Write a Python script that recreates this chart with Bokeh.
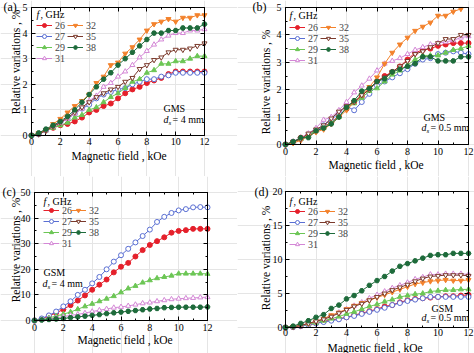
import math
from bokeh.plotting import figure
from bokeh.models import Range1d, SingleIntervalTicker, LinearAxis, Legend, LegendItem, Label
from bokeh.layouts import column, row
from bokeh.embed import file_html
from bokeh.resources import INLINE

NaN = float("nan")
field = [0, 0.5, 1, 1.5, 2, 2.5, 3, 3.5, 4, 4.5, 5, 5.5, 6, 6.5, 7, 7.5, 8, 8.5, 9, 9.5, 10, 10.5, 11, 11.5, 12]
freqs = ["26", "27", "29", "31", "32", "35", "38"]

# Panel (a): GMS, d_s = 4 mm
a_26 = [0, 0.05, 0.2, 0.3, 0.4, 0.45, 0.55, 0.7, 0.9, 1.0, 1.15, 1.25, 1.45, 1.65, 1.8, 1.9, 2.05, 2.15, 2.25, 2.4, 2.5, 2.5, 2.5, 2.5, 2.5]
a_27 = [0, 0.05, 0.2, 0.35, 0.5, 0.65, 0.85, 1.05, 1.2, 1.45, 1.6, 1.7, 1.8, 1.85, 2.0, 2.1, 2.2, 2.2, 2.3, 2.35, 2.45, 2.45, 2.45, 2.45, 2.45]
a_29 = [0, 0.05, 0.2, 0.3, 0.4, 0.5, 0.7, 0.8, 1.0, 1.1, 1.3, 1.5, 1.65, 1.85, 2.1, 2.2, 2.45, 2.55, 2.8, 2.8, 2.9, 2.9, 3.0, 3.1, 3.1]
a_31 = [0, 0.05, 0.2, 0.35, 0.5, 0.65, 0.85, 1.05, 1.35, 1.55, 1.9, 2.05, 2.3, 2.5, 2.75, 3.05, 3.3, 3.55, 3.75, 3.9, 4.0, 4.0, 4.1, 4.1, 4.15]
a_32 = [0, 0.1, 0.2, 0.45, 0.65, 0.9, 1.15, 1.35, 1.6, 2.05, 2.3, 2.75, 2.85, 3.2, 3.45, 3.75, 4.1, 4.35, 4.45, 4.55, 4.45, 4.6, 4.6, 4.7, 4.7]
a_35 = [0, 0.05, 0.2, 0.35, 0.5, 0.7, 0.9, 1.1, 1.3, 1.5, 1.65, 1.8, 1.9, 2.1, 2.25, 2.6, 2.75, 2.95, 3.05, 3.25, 3.35, 3.35, 3.4, 3.5, 3.6]
a_38 = [0, 0.1, 0.25, 0.4, 0.55, 0.75, 1.0, 1.3, 1.6, 1.9, 2.2, 2.45, 2.75, 3.0, 3.25, 3.5, 3.75, 4.0, 4.0, 4.1, 4.1, 4.2, 4.2, 4.2, 4.35]

# Panel (b): GMS, d_s = 0.5 mm  (32 GHz leaves the box after 11.5 kOe)
b_26 = [0, 0.1, 0.25, 0.35, 0.5, 0.65, 0.8, 1.05, 1.3, 1.55, 1.75, 2.05, 2.3, 2.5, 2.65, 2.85, 3.1, 3.35, 3.45, 3.5, 3.6, 3.65, 3.7, 3.7, 3.7]
b_27 = [0, 0.1, 0.2, 0.35, 0.5, 0.7, 0.9, 1.15, 1.4, 1.25, 1.55, 1.85, 2.15, 2.3, 2.45, 2.6, 2.75, 2.95, 3.1, 3.15, 3.3, 3.35, 3.4, 3.35, 3.3]
b_29 = [0, 0.1, 0.2, 0.35, 0.5, 0.6, 0.8, 1.0, 1.35, 1.5, 1.7, 1.95, 2.05, 2.3, 2.55, 2.7, 2.9, 3.1, 3.25, 3.25, 3.25, 3.35, 3.45, 3.5, 3.6]
b_31 = [0, 0.1, 0.25, 0.4, 0.6, 0.9, 1.0, 1.25, 1.55, 1.9, 2.15, 2.4, 2.7, 2.95, 3.05, 3.15, 3.3, 3.45, 3.55, 3.65, 3.7, 3.75, 3.8, 3.9, 3.95]
b_32 = [0, 0.05, 0.15, 0.3, 0.45, 0.55, 0.75, 1.0, 1.25, 1.55, 1.8, 2.1, 2.45, 2.95, 3.35, 3.65, 3.9, 4.15, 4.3, 4.45, 4.7, 4.7, 4.85, 4.95]
b_35 = [0, 0.1, 0.2, 0.4, 0.55, 0.7, 0.95, 1.2, 1.4, 1.55, 1.8, 2.0, 2.3, 2.45, 2.65, 2.85, 3.05, 3.3, 3.4, 3.55, 3.7, 3.85, 3.85, 4.0, 4.0]
b_38 = [0, 0.1, 0.25, 0.25, 0.5, 0.6, 0.75, 1.0, 1.35, 1.6, 1.95, 2.05, 2.3, 2.4, 2.65, 2.75, 2.85, 2.95, 3.2, 3.2, 3.05, 3.05, 3.05, 3.2, 3.2]

# Panel (c): GSM, d_s = 4 mm  (32 and 35 GHz appear only in the legend)
c_26 = [0, 0.6, 1.8, 3.0, 4.3, 6.0, 7.8, 9.8, 12.0, 14.0, 16.0, 18.8, 21.0, 22.5, 25.0, 27.5, 29.5, 31.0, 32.5, 34.3, 35.0, 35.3, 35.8, 35.8, 35.8]
c_27 = [0, 0.8, 2.0, 3.5, 5.5, 7.5, 10.0, 12.0, 14.5, 17.0, 20.0, 23.0, 25.5, 28.0, 30.5, 33.0, 35.5, 38.5, 40.5, 42.0, 43.0, 43.5, 44.2, 44.3, 44.2]
c_29 = [0, 0.3, 1.0, 1.7, 2.5, 3.3, 4.4, 5.5, 6.5, 7.5, 8.5, 9.5, 11.0, 12.5, 13.5, 14.8, 15.7, 16.5, 17.0, 17.5, 18.3, 18.3, 18.3, 18.3, 18.2]
c_31 = [0, 0.2, 0.6, 1.0, 1.5, 2.0, 2.4, 2.9, 3.5, 4.0, 4.5, 5.0, 5.3, 5.7, 6.2, 6.7, 7.0, 7.5, 7.9, 8.3, 8.5, 8.7, 8.8, 9.0, 9.1]
c_32 = [NaN]
c_35 = [NaN]
c_38 = [0, 0.2, 0.4, 0.6, 0.8, 1.1, 1.4, 1.7, 2.0, 2.3, 2.7, 3.0, 3.3, 3.6, 3.9, 4.2, 4.5, 4.7, 5.0, 5.1, 5.2, 5.2, 5.2, 5.2, 5.3]

# Panel (d): GSM, d_s = 0.5 mm
d_26 = [0, 0.05, 0.2, 0.4, 0.6, 0.9, 1.1, 1.3, 1.5, 1.8, 2.1, 2.4, 2.7, 3.1, 3.3, 3.7, 4.0, 4.2, 4.3, 4.4, 4.5, 4.6, 4.6, 4.7, 4.8]
d_27 = [0, 0.05, 0.2, 0.4, 0.6, 0.8, 1.0, 1.2, 1.5, 1.7, 2.0, 2.3, 2.6, 2.9, 3.3, 3.6, 3.9, 4.1, 4.3, 4.5, 4.5, 4.5, 4.5, 4.5, 4.5]
d_29 = [0, 0.1, 0.3, 0.5, 0.7, 1.0, 1.3, 1.6, 2.0, 2.3, 2.7, 3.1, 3.4, 3.8, 4.1, 4.5, 4.7, 4.9, 5.0, 5.3, 5.4, 5.5, 5.5, 5.6, 5.6]
d_31 = [0, 0.1, 0.3, 0.6, 0.9, 1.3, 1.7, 2.2, 2.7, 3.2, 3.7, 4.3, 4.8, 5.3, 5.8, 6.2, 6.6, 7.1, 7.4, 7.8, 7.8, 7.9, 7.9, 7.9, 7.8]
d_32 = [0, 0.1, 0.3, 0.6, 0.9, 1.3, 1.8, 2.2, 2.7, 3.2, 3.6, 4.0, 4.4, 4.8, 5.2, 5.6, 6.0, 6.4, 6.6, 6.8, 6.9, 7.0, 6.9, 6.9, 7.0]
d_35 = [0, 0.1, 0.3, 0.6, 0.9, 1.2, 1.6, 2.1, 2.6, 3.1, 3.5, 4.0, 4.5, 5.0, 5.5, 5.9, 6.3, 6.8, 7.2, 7.5, 7.6, 7.7, 7.7, 7.7, 7.6]
d_38 = [0, 0.2, 0.6, 1.0, 1.5, 1.9, 2.8, 3.3, 4.2, 4.7, 5.4, 6.2, 6.9, 7.5, 8.3, 9.0, 9.4, 9.8, 10.2, 10.6, 10.7, 10.7, 10.9, 10.9, 10.9]

colors = {"26": "#e5202b", "27": "#5a6fd3", "29": "#6cc655", "31": "#d487d6",
          "32": "#f3822c", "35": "#7b3a2c", "38": "#1e6b3b"}
markers = {"26": "circle", "27": "circle", "29": "triangle", "31": "triangle",
           "32": "inverted_triangle", "35": "inverted_triangle", "38": "hex"}
filled = {"26": True, "27": False, "29": True, "31": False, "32": True, "35": False, "38": True}

FONT = "Liberation Serif"
XLABEL = "Magnetic field ,  kOe"
YLABEL = "Relative variations ,  %"


def make_panel(tag, data, ymax, ystep, w, h, box, tick_stand, tag_pos, xlab_pos, ylab_pos,
               leg_pos, title_y, sample, sample_pos, ds_text, ds_pos):
    L, R, T, B = box
    kx = (R - L) / 12.0
    ky = (B - T) / float(ymax)
    p = figure(width=w, height=h,
               x_range=Range1d(-L / kx, 12 + (w - R) / kx),
               y_range=Range1d(-(h - B) / ky, ymax + T / ky),
               output_backend="svg", toolbar_location=None,
               x_axis_location=None, y_axis_location=None, min_border=0)
    p.background_fill_color = "white"
    p.border_fill_color = "white"
    p.outline_line_color = None

    xt = SingleIntervalTicker(interval=2, num_minor_ticks=2)
    yt = SingleIntervalTicker(interval=ystep, num_minor_ticks=2)
    common = dict(major_tick_in=4, major_tick_out=0, minor_tick_in=2, minor_tick_out=0,
                  axis_line_color="black", major_tick_line_color="black",
                  minor_tick_line_color="black")
    xs_stand, ys_stand = tick_stand
    bottom = LinearAxis(ticker=xt, fixed_location=0, bounds=(0, 12), major_label_text_font=FONT,
                        major_label_text_font_size="10px", major_label_text_color="black",
                        major_label_standoff=xs_stand, **common)
    left = LinearAxis(ticker=yt, fixed_location=0, bounds=(0, ymax), major_label_text_font=FONT,
                      major_label_text_font_size="10px", major_label_text_color="black",
                      major_label_standoff=ys_stand, **common)
    top = LinearAxis(ticker=xt, fixed_location=ymax, bounds=(0, 12),
                     major_label_text_font_size="1px", major_label_text_color=None, **common)
    right = LinearAxis(ticker=yt, fixed_location=12, bounds=(0, ymax),
                       major_label_text_font_size="1px", major_label_text_color=None, **common)
    p.add_layout(bottom, "below")
    p.add_layout(left, "left")
    p.add_layout(top, "above")
    p.add_layout(right, "right")

    def lab(text, px, py, **kw):
        opts = dict(text_font=FONT, text_font_size="10px", text_baseline="middle",
                    text_color="black")
        opts.update(kw)
        p.add_layout(Label(x=px, y=h - py, x_units="screen", y_units="screen",
                           text=text, **opts))

    # axis titles
    lab(XLABEL, xlab_pos[0], xlab_pos[1], text_font_size="11.5px", text_align="center")
    lab(YLABEL, ylab_pos[0], ylab_pos[1], text_font_size="11.5px", text_align="center",
        angle=math.pi / 2)

    rend = {}
    for f in freqs:
        ys = data[f]
        xs = field[:len(ys)]
        c = colors[f]
        ln = p.line(xs, ys, line_color=c, line_width=1)
        sc = p.scatter(xs, ys, marker=markers[f], size=5, line_color=c, line_width=1,
                       fill_color=c if filled[f] else "white")
        rend[f] = [ln, sc]

    row_h = 11
    leg_common = dict(label_text_font=FONT, label_text_font_size="10px", glyph_width=16,
                      glyph_height=10, label_height=10, label_standoff=3, spacing=0,
                      padding=0, margin=0, border_line_color=None, background_fill_alpha=0)
    lx, lx2, row1 = leg_pos
    top_px = row1 - row_h / 2.0
    l1 = Legend(items=[LegendItem(label=f, renderers=rend[f]) for f in ["26", "27", "29", "31"]],
                location=(lx, h - top_px - 4 * row_h), **leg_common)
    l2 = Legend(items=[LegendItem(label=f, renderers=rend[f]) for f in ["32", "35", "38"]],
                location=(lx2, h - top_px - 3 * row_h), **leg_common)
    p.add_layout(l1)
    p.add_layout(l2)

    # legend title: f, GHz
    lab("f", lx, title_y, text_font_style="italic")
    lab(", GHz", lx + 4, title_y)

    # panel tag
    lab(tag, tag_pos[0], tag_pos[1], text_font_size="12px")

    # sample annotation
    lab(sample, sample_pos[0], sample_pos[1])
    dx, dy = ds_pos
    lab("d", dx, dy, text_font_style="italic")
    lab("s", dx + 5, dy + 3, text_font_style="italic", text_font_size="7px")
    lab(ds_text, dx + 9, dy)
    return p


data_a = {"26": a_26, "27": a_27, "29": a_29, "31": a_31, "32": a_32, "35": a_35, "38": a_38}
data_b = {"26": b_26, "27": b_27, "29": b_29, "31": b_31, "32": b_32, "35": b_35, "38": b_38}
data_c = {"26": c_26, "27": c_27, "29": c_29, "31": c_31, "32": c_32, "35": c_35, "38": c_38}
data_d = {"26": d_26, "27": d_27, "29": d_29, "31": d_31, "32": d_32, "35": d_35, "38": d_38}

pa = make_panel("(a)", data_a, 5, 1, 237, 176, (31, 204, 7, 135), (2, 4), (3, 6),
                (120, 155), (15, 60), (36, 67, 25), 14,
                "GMS", (163, 108), "= 4 mm", (163, 119))
pb = make_panel("(b)", data_b, 5, 1, 237, 176, (48, 231, 7, 144), (3, 4), (15, 6),
                (140, 164), (28, 80), (52, 83, 27), 15,
                "GMS", (186, 117), "= 0.5 mm", (184, 127))
pc = make_panel("(c)", data_c, 50, 10, 237, 177, (34, 207, 16, 144), (3, 4), (2, 15),
                (126, 163), (15, 72), (43, 70, 34), 25,
                "GSM", (43, 96), "= 4 mm", (42, 107))
pd = make_panel("(d)", data_d, 20, 5, 237, 177, (48, 231, 15, 151), (1, 3), (17, 15),
                (139, 171), (28, 80), (52, 82, 35), 25,
                "GSM", (194, 132), "= 0.5 mm", (184, 141))

layout = column(row(pa, pb), row(pc, pd))
open("out.html", "w").write(file_html(layout, INLINE))
